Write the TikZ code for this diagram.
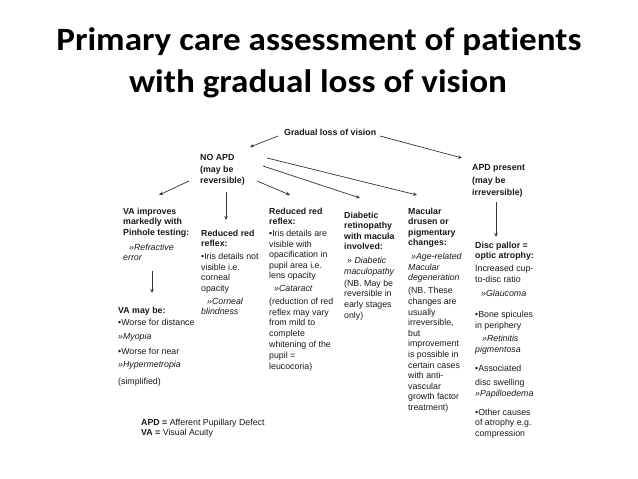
\documentclass[tikz,border=0pt]{standalone}
\usepackage{fontspec}
\setmainfont{Liberation Sans}
\newfontfamily\titlefont[FakeStretch=1.08,Ligatures=NoCommon]{Carlito}
\usetikzlibrary{arrows.meta}
\begin{document}
\begin{tikzpicture}[x=1pt,y=-1pt,
  titletext/.style={anchor=base, inner sep=0pt, font=\titlefont\bfseries\fontsize{32.5}{40}\selectfont, text=black},
  blk/.style={anchor=north west, align=left, inner sep=0pt, font=\fontsize{8.8}{10.6}\selectfont, text=black!90},
  arr/.style={draw=black!80, line width=0.7pt, -{Stealth[length=4pt,width=3.4pt]}}]
\useasboundingbox[fill=white] (0,0) rectangle (638,479);

\node[titletext] (t1) at (319,50) {Primary care assessment of patients};
\node[titletext] (t2) at (318,92) {with gradual loss of vision};

\node[blk, anchor=base west] (grad) at (284,135.5) {\textbf{Gradual loss of vision}};

\node[blk] (noapd) at (200,154.5) {\textbf{NO APD}\\[1.3pt]\textbf{(may be}\\\textbf{reversible)}};
\node[blk] (apd) at (472,164.5) {\textbf{APD present}\\[2.3pt]\textbf{(may be}\\[1.3pt]\textbf{irreversible)}};

\node[blk] (vaimp) at (123,207.5) {\textbf{VA improves}\\\textbf{markedly with}\\\textbf{Pinhole testing:}\\[4.3pt]\hspace*{6pt}\textit{»Refractive}\\\textit{error}};

\node[blk] (vamay) at (118,306.5) {\textbf{VA may be:}\\[2.3pt]•Worse for distance\\[3.3pt]\textit{»Myopia}\\[4.3pt]•Worse for near\\[2.3pt]\textit{»Hypermetropia}\\[6.3pt](simplified)};

\node[blk] (cornea) at (201,229.5) {\textbf{Reduced red}\\\textbf{reflex:}\\[2.3pt]•Iris details not\\visible i.e.\\corneal\\opacity\\[2.3pt]\hspace*{6pt}\textit{»Corneal}\\\textit{blindness}};

\node[blk] (lens) at (269,207.5) {\textbf{Reduced red}\\\textbf{reflex:}\\[1.3pt]•Iris details are\\visible with\\opacification in\\pupil area i.e.\\lens opacity\\[2.3pt]\hspace*{5pt}\textit{»Cataract}\\[2.3pt](reduction of red\\reflex may vary\\from mild to\\complete\\whitening of the\\[1pt]pupil =\\leucocoria)};

\node[blk] (diab) at (344,211.5) {\textbf{Diabetic}\\\textbf{retinopathy}\\\textbf{with macula}\\\textbf{involved:}\\[3.3pt]\hspace*{3pt}\textit{» Diabetic}\\\textit{maculopathy}\\[1.3pt](NB. May be\\reversible in\\early stages\\only)};

\node[blk] (mac) at (408,207.5) {\textbf{Macular}\\\textbf{drusen or}\\\textbf{pigmentary}\\\textbf{changes:}\\[3.3pt]\hspace*{3pt}\textit{»Age-related}\\\textit{Macular}\\\textit{degeneration}\\[2.3pt](NB. These\\changes are\\usually\\irreversible,\\but\\improvement\\is possible in\\certain cases\\with anti-\\vascular\\growth factor\\treatment)};

\node[blk] (disc) at (475,241.5) {\textbf{Disc pallor =}\\\textbf{optic atrophy:}\\[2.3pt]Increased cup-\\to-disc ratio\\[3.3pt]\hspace*{6pt}\textit{»Glaucoma}\\[11.3pt]•Bone spicules\\in periphery\\[2.3pt]\hspace*{7pt}\textit{»Retinitis}\\\textit{pigmentosa}\\[9.3pt]•Associated\\[3.3pt]disc swelling\\\textit{»Papilloedema}\\[8.3pt]•Other causes\\of atrophy e.g.\\compression};

\node[blk] (legend) at (141,418.5) {\textbf{APD =} Afferent Pupillary Defect\\\textbf{VA =} Visual Acuity};

% connector end points
\coordinate (g1) at (278,136);   \coordinate (n0) at (250,147);
\coordinate (g2) at (380,136);   \coordinate (a0) at (462,158);
\coordinate (n1) at (189,181);   \coordinate (v0) at (159,195);
\coordinate (n2) at (226,192);   \coordinate (c0) at (226,220);
\coordinate (n3) at (257,181);   \coordinate (l0) at (290,195);
\coordinate (n4) at (263,166);   \coordinate (d0) at (360,198);
\coordinate (n5) at (267,158);   \coordinate (m0) at (417,195);
\coordinate (v1) at (152,271);   \coordinate (v2) at (152,293);
\coordinate (a1) at (496,202);   \coordinate (p0) at (496,237);

\draw[arr] (g1) -- (n0);
\draw[arr] (g2) -- (a0);
\draw[arr] (n1) -- (v0);
\draw[arr] (n2) -- (c0);
\draw[arr] (n3) -- (l0);
\draw[arr] (n4) -- (d0);
\draw[arr] (n5) -- (m0);
\draw[arr] (v1) -- (v2);
\draw[arr] (a1) -- (p0);
\end{tikzpicture}
\end{document}
